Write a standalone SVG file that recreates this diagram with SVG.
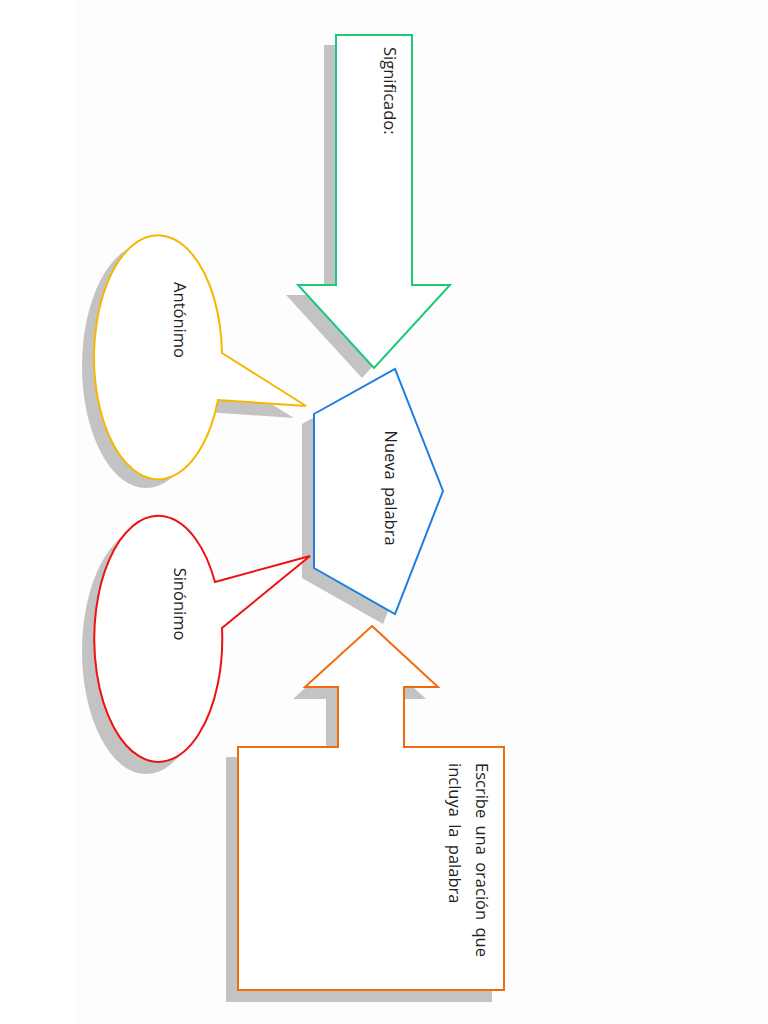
<svg xmlns="http://www.w3.org/2000/svg" width="768" height="1024" viewBox="0 0 768 1024">
<style>
.sh{fill:#c3c3c3;stroke:none}
.n{fill:#fff;stroke-width:2}
text{font-family:"Open Sans","Liberation Sans",sans-serif;font-size:16.5px;fill:#222;word-spacing:3px}
</style>
<rect width="768" height="1024" fill="#fff"/>
<rect x="75" y="0" width="693" height="1024" fill="#fdfdfd"/>
<g id="shadows">
<polygon class="sh" points="324,45 400,45 400,295 438,295 362,378 286,295 324,295"/>
<polygon class="sh" points="302,424 383,379 431,501 383,624 302,578"/>
<ellipse class="sh" cx="146" cy="366" rx="64" ry="122"/>
<polygon class="sh" points="200,360 294,418 206,412"/>
<ellipse class="sh" cx="146" cy="651" rx="64" ry="123"/>
<polygon class="sh" points="226,757 492,757 492,1002 226,1002"/>
<polygon class="sh" points="360,638 426,699 392,699 392,757 326,757 326,699 293,699"/>
</g>
<g id="significado">
<polygon class="n" stroke="#1dc97a" points="336,35 412,35 412,285 450,285 374,368 298,285 336,285"/>
<text transform="translate(390,47) rotate(90)" dominant-baseline="central">Significado:</text>
</g>
<g id="nueva">
<polygon class="n" stroke="#1a7fe0" points="314,414 395,369 443,491 395,614 314,568"/>
<text transform="translate(391,488) rotate(90)" text-anchor="middle" dominant-baseline="central">Nueva palabra</text>
</g>
<g id="antonimo">
<path class="n" stroke="#f5b800" d="M222,353 L306,406 L218,400 A64,122 0 1 1 222,353 Z"/>
<text transform="translate(180,320) rotate(90)" text-anchor="middle" dominant-baseline="central">Antónimo</text>
</g>
<g id="sinonimo">
<path class="n" stroke="#ee1111" d="M215,582 L310,556 L222,628 A64,123 0 1 1 215,582 Z"/>
<text transform="translate(180,604) rotate(90)" text-anchor="middle" dominant-baseline="central">Sinónimo</text>
</g>
<g id="oracion">
<polygon class="n" stroke="#f26a10" points="372,626 438,687 404,687 404,747 504,747 504,990 238,990 238,747 338,747 338,687 305,687"/>
<text transform="translate(482,763) rotate(90)" dominant-baseline="central">Escribe una oración que</text>
<text transform="translate(455,763) rotate(90)" dominant-baseline="central">incluya la palabra</text>
</g>
<g id="connectors"/>
</svg>
